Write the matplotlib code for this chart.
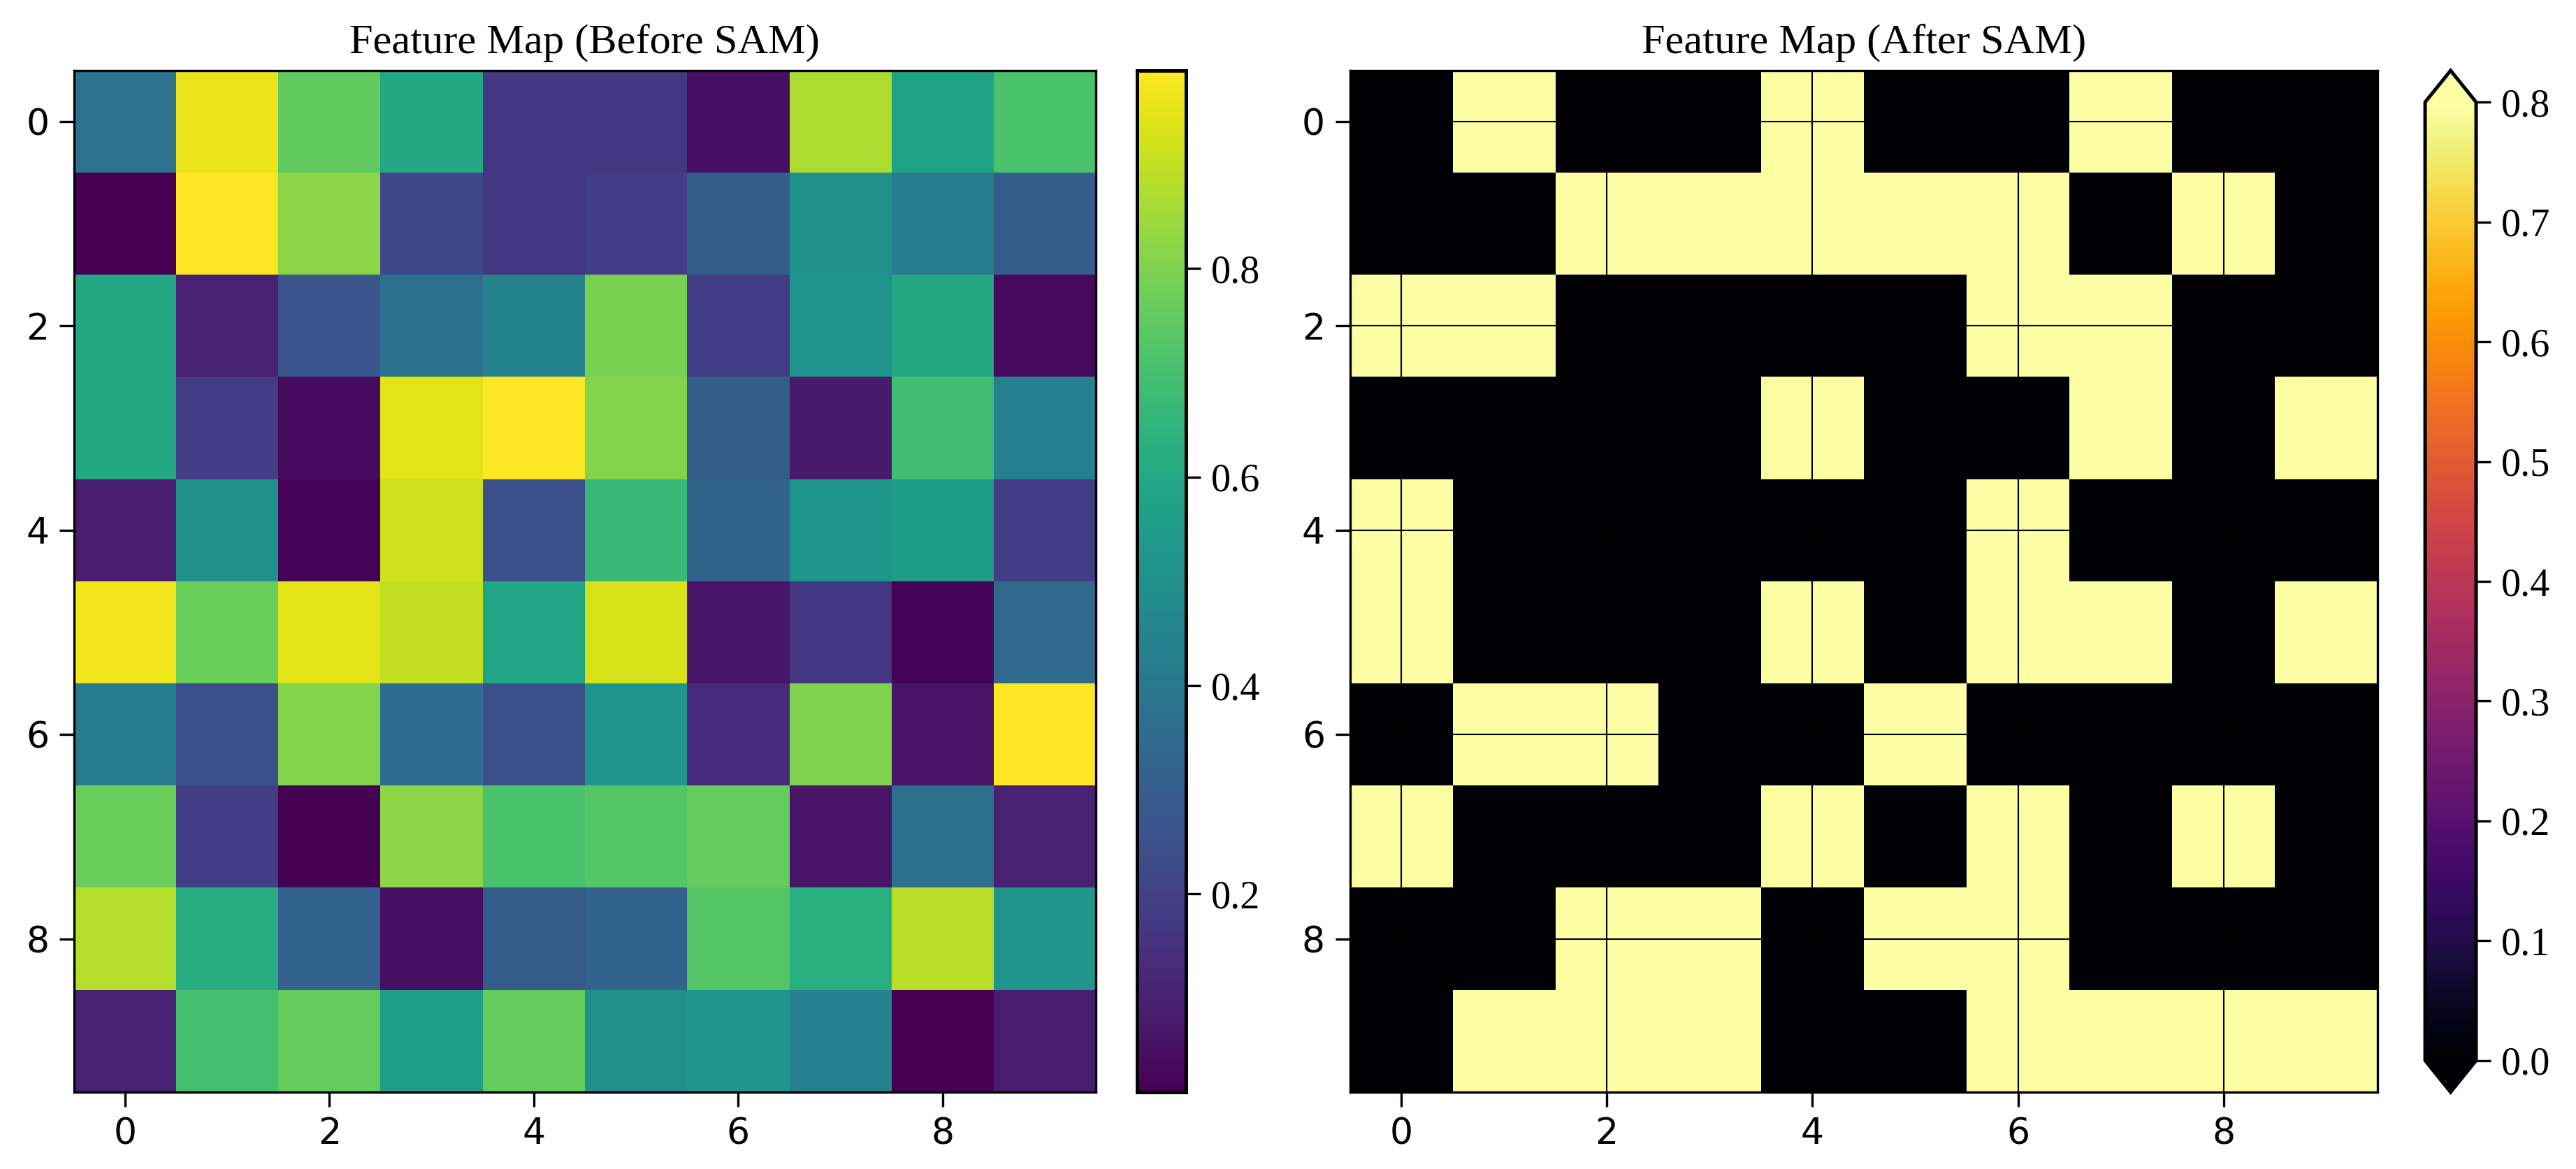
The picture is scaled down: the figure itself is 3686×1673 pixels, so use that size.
import numpy as np
import matplotlib
matplotlib.use("Agg")
import matplotlib.pyplot as plt

# feature map before SAM
before_rows = [
    [0.38, 0.96, 0.75, 0.60, 0.17, 0.17, 0.05, 0.87, 0.58, 0.71],
    [0.01, 0.99, 0.82, 0.22, 0.17, 0.19, 0.30, 0.50, 0.42, 0.30],
    [0.60, 0.10, 0.27, 0.37, 0.45, 0.79, 0.19, 0.51, 0.60, 0.03],
    [0.60, 0.19, 0.04, 0.95, 0.99, 0.81, 0.30, 0.08, 0.69, 0.44],
    [0.09, 0.50, 0.02, 0.92, 0.25, 0.67, 0.32, 0.53, 0.55, 0.19],
    [0.97, 0.77, 0.95, 0.90, 0.59, 0.93, 0.07, 0.17, 0.02, 0.35],
    [0.42, 0.25, 0.81, 0.36, 0.25, 0.52, 0.13, 0.80, 0.06, 0.99],
    [0.77, 0.19, 0.01, 0.82, 0.71, 0.73, 0.76, 0.06, 0.37, 0.10],
    [0.88, 0.62, 0.32, 0.05, 0.30, 0.32, 0.73, 0.63, 0.89, 0.52],
    [0.10, 0.70, 0.76, 0.56, 0.76, 0.50, 0.52, 0.44, 0.01, 0.09],
]

# feature map after SAM (binary mask)
after_rows = [
    [0, 1, 0, 0, 1, 0, 0, 1, 0, 0],
    [0, 0, 1, 1, 1, 1, 1, 0, 1, 0],
    [1, 1, 0, 0, 0, 0, 1, 1, 0, 0],
    [0, 0, 0, 0, 1, 0, 0, 1, 0, 1],
    [1, 0, 0, 0, 0, 0, 1, 0, 0, 0],
    [1, 0, 0, 0, 1, 0, 1, 1, 0, 1],
    [0, 1, 1, 0, 0, 1, 0, 0, 0, 0],
    [1, 0, 0, 0, 1, 0, 1, 0, 1, 0],
    [0, 0, 1, 1, 0, 1, 1, 0, 0, 0],
    [0, 1, 1, 1, 0, 0, 1, 1, 1, 1],
]

before_ticks = [0.2, 0.4, 0.6, 0.8]
after_ticks = [0.0, 0.1, 0.2, 0.3, 0.4, 0.5, 0.6, 0.7, 0.8]

before = np.array(before_rows)
after = np.array(after_rows, dtype=float)

serif = "Liberation Serif"
sans = "DejaVu Sans"

fig = plt.figure(figsize=(12.287, 5.577), dpi=300)

ax1 = fig.add_axes([0.0287, 0.0658, 0.3967, 0.8738])
cax1 = fig.add_axes([0.4414, 0.0658, 0.019, 0.8738])
ax2 = fig.add_axes([0.524, 0.0658, 0.399, 0.8738])
cax2 = fig.add_axes([0.9414, 0.0658, 0.0198, 0.8738])

# left: before SAM
im1 = ax1.imshow(before, cmap="viridis", aspect="auto")
ax1.set_title("Feature Map (Before SAM)", fontsize=14.5, family=serif)
cb1 = fig.colorbar(im1, cax=cax1)
cb1.set_ticks(before_ticks)

# right: after SAM
im2 = ax2.imshow(after, cmap="inferno", vmin=0, vmax=0.8, aspect="auto")
ax2.set_title("Feature Map (After SAM)", fontsize=14.5, family=serif)
ax2.grid(True, color="black", linewidth=0.5)
cb2 = fig.colorbar(im2, cax=cax2, extend="both", extendfrac=0.033)
cb2.set_ticks(after_ticks)

for ax in (ax1, ax2):
    ax.set_xticks(range(0, 10, 2))
    ax.set_yticks(range(0, 10, 2))
    ax.tick_params(labelsize=12.5, length=5)
    for lab in ax.get_xticklabels() + ax.get_yticklabels():
        lab.set_family(sans)

for cb in (cb1, cb2):
    cb.outline.set_linewidth(1.2)
    cb.ax.tick_params(labelsize=13.5, length=5)
    for lab in cb.ax.get_yticklabels():
        lab.set_family(serif)

fig.savefig("out.png", dpi=300)
